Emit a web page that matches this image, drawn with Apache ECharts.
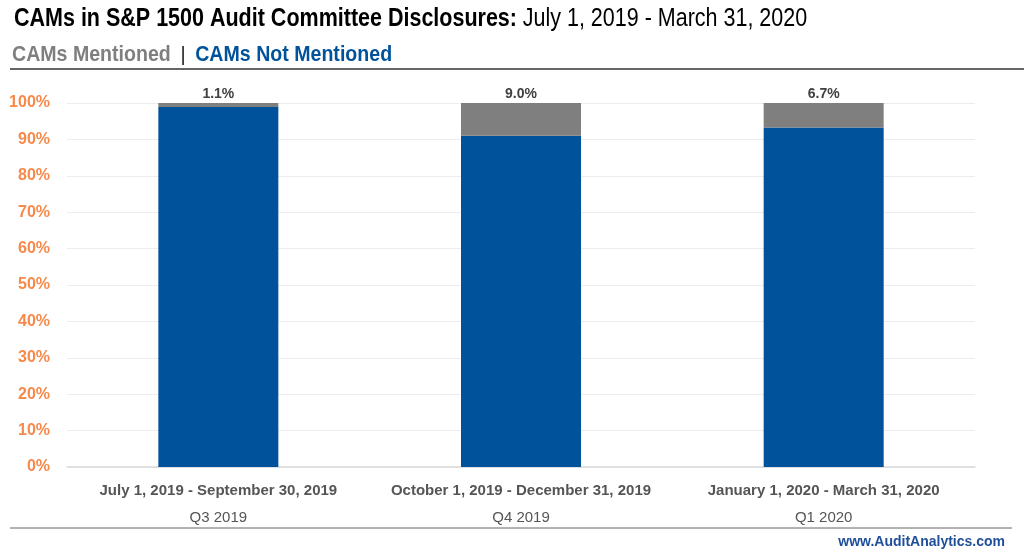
<!DOCTYPE html>
<html>
<head>
<meta charset="UTF-8">
<title>CAMs</title>
<script src="https://cdn.jsdelivr.net/npm/echarts@6/dist/echarts.min.js"></script>
</head>
<body style="margin:0">
<div id="chart" style="width:1024px;height:556px"></div>
<script>
var periods = ['July 1, 2019 - September 30, 2019', 'October 1, 2019 - December 31, 2019', 'January 1, 2020 - March 31, 2020'];
var quarters = ['Q3 2019', 'Q4 2019', 'Q1 2020'];
var mentioned = [1.1, 9.0, 6.7];
var notMentioned = [98.9, 91.0, 93.3];

var font = '"Liberation Sans Narrow", "Arial Narrow", "Liberation Sans", sans-serif';
var blue = '#00529B', grey = '#7F7F7F';

var chart = echarts.init(document.getElementById('chart'));
chart.setOption({
  backgroundColor: '#fff',
  textStyle: {fontFamily: font},
  title: {
    text: 'www.AuditAnalytics.com',
    right: 14, top: 530,
    textStyle: {fontFamily: '"Liberation Sans", sans-serif', fontWeight: 'bold', fontSize: 14, color: '#1F4E9A'}
  },
  graphic: [
    // title line, squeezed to look like a narrow font
    {type: 'text', left: 14, top: 7, scaleX: 0.86,
      style: {
        text: '{b|CAMs in S&P 1500 Audit Committee Disclosures:}  {n|July 1, 2019 - March 31, 2020}',
        rich: {
          b: {fontFamily: font, fontWeight: 'bold', fontSize: 25, fill: '#000'},
          n: {fontFamily: font, fontSize: 25, fill: '#000'}
        }
      }},
    {type: 'text', left: 12, top: 44, scaleX: 0.89,
      style: {
        text: '{g|CAMs Mentioned}{s|  |  }{bl|CAMs Not Mentioned}',
        rich: {
          g: {fontFamily: font, fontWeight: 'bold', fontSize: 22, fill: grey},
          s: {fontFamily: font, fontSize: 20, fill: '#000'},
          bl: {fontFamily: font, fontWeight: 'bold', fontSize: 22, fill: blue}
        }
      }},
    {type: 'line', shape: {x1: 10, y1: 69, x2: 1024, y2: 69}, style: {stroke: '#333', lineWidth: 1.5}},
    {type: 'line', shape: {x1: 10, y1: 528, x2: 1012, y2: 528}, style: {stroke: '#666', lineWidth: 1}}
  ],
  grid: {left: 67, right: 49, top: 103, bottom: 89},
  xAxis: {
    type: 'category',
    data: periods.map(function (p, i) { return p + '\n' + quarters[i]; }),
    axisTick: {show: false},
    axisLine: {lineStyle: {color: '#d9d9d9', width: 1.5}},
    axisLabel: {
      margin: 10,
      formatter: function (v) {
        var parts = v.split('\n');
        return '{p|' + parts[0] + '}\n{q|' + parts[1] + '}';
      },
      rich: {
        p: {fontFamily: font, fontWeight: 'bold', fontSize: 15, color: '#555', lineHeight: 28},
        q: {fontFamily: font, fontSize: 15, color: '#555', lineHeight: 26}
      }
    }
  },
  yAxis: {
    type: 'value', min: 0, max: 100, interval: 10,
    axisLine: {show: false},
    axisTick: {show: false},
    splitLine: {lineStyle: {color: '#ececec'}},
    axisLabel: {
      formatter: '{value}%', margin: 17,
      fontFamily: font, fontWeight: 'bold', fontSize: 16, color: '#F7894A'
    }
  },
  series: [{
    name: 'CAMs Not Mentioned', type: 'bar', stack: 'all',
    data: notMentioned, barWidth: 120,
    itemStyle: {color: blue}
  }, {
    name: 'CAMs Mentioned', type: 'bar', stack: 'all',
    data: mentioned, barWidth: 120,
    itemStyle: {color: grey},
    label: {
      show: true, position: 'top', distance: 2,
      formatter: function (p) { return p.value.toFixed(1) + '%'; },
      fontFamily: font, fontWeight: 'bold', fontSize: 14, color: '#404040'
    }
  }]
});
</script>
</body>
</html>
